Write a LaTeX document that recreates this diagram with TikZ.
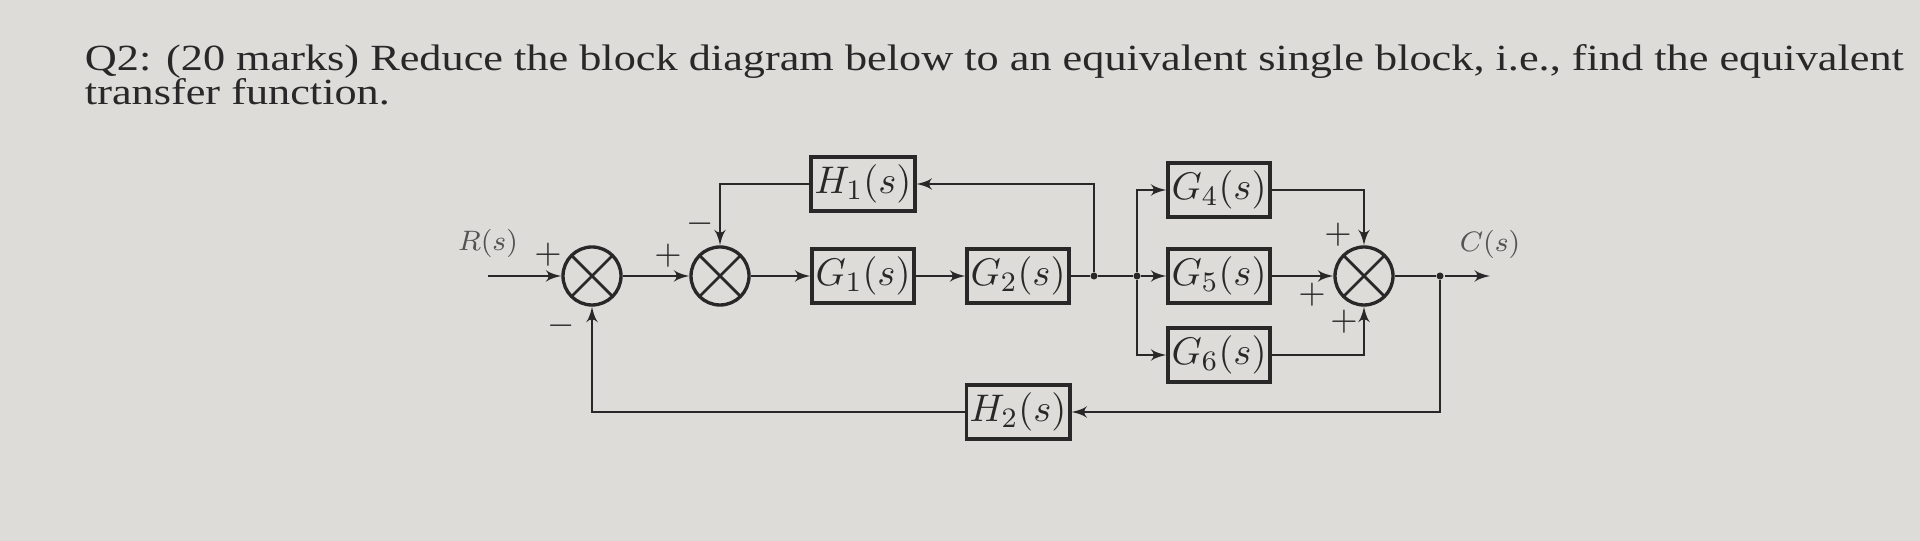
\documentclass[tikz,border=0pt]{standalone}
\usepackage{fontspec}
\newfontfamily\titlefont[FakeStretch=1.2]{Liberation Serif}
\usepackage{tikz}
\usetikzlibrary{positioning, arrows}
\definecolor{paper}{RGB}{221,220,217}
\definecolor{ink}{RGB}{40,40,40}
\tikzset{
>=latex', % small filled arrow heads
every path/.style={line width=0.55pt}, % thin signal lines
block/.style={draw, line width=0.95pt, minimum width=1.02cm, minimum height=0.54cm, inner sep=1pt, font=\fontsize{10.95}{13}\selectfont}, % transfer function boxes
sumnode/.style={circle, draw, line width=0.95pt, minimum size=0.58cm, inner sep=0pt,
  path picture={\draw[line width=0.8pt] (path picture bounding box.north west) -- (path picture bounding box.south east)
  (path picture bounding box.north east) -- (path picture bounding box.south west);}}, % summing junction
dot/.style={circle, fill, inner sep=0pt, minimum size=2pt}, % take-off point
sign/.style={inner sep=0pt, font=\normalsize}, % + and - at the junctions
signal/.style={inner sep=0pt, font=\footnotesize, text=ink!80}, % R(s), C(s)
question/.style={anchor=base west, inner sep=0pt, font=\titlefont\fontsize{10.5}{13}\selectfont}, % the task text
}
\begin{document}
\begin{tikzpicture}[color=ink]
\fill[paper] (0,0) rectangle (19.2,-5.41);
\useasboundingbox (0,0) rectangle (19.2,-5.41);

% question text
\node[question] (q1) at (0.84,-0.71)
  {Q2: (20 marks) Reduce the block diagram below to an equivalent single block, i.e., find the equivalent};
\node[question] (q2) at (0.84,-1.05) {transfer function.};

% forward path
\node[sumnode] (s1) at (5.92,-2.76) {};
\coordinate[left of=s1, node distance=1.04cm] (in);
\node[sumnode, right of=s1, node distance=1.28cm] (s2) {};
\node[block, right of=s2, node distance=1.43cm] (g1) {$G_1(s)$};
\node[block, right of=g1, node distance=1.55cm] (g2) {$G_2(s)$};
\node[dot, right of=g2, node distance=0.76cm] (d1) {};
\node[dot, right of=d1, node distance=0.43cm] (d2) {};
\node[block, right of=d2, node distance=0.82cm] (g5) {$G_5(s)$};
\node[block, above of=g5, node distance=0.86cm] (g4) {$G_4(s)$};
\node[block, below of=g5, node distance=0.79cm] (g6) {$G_6(s)$};
\node[sumnode, right of=g5, node distance=1.45cm] (s3) {};
\node[dot, right of=s3, node distance=0.76cm] (d3) {};
\coordinate[right of=d3, node distance=0.50cm] (out);

% feedback blocks
\node[block, above of=g1, node distance=0.92cm] (h1) {$H_1(s)$};
\node[block, below of=g2, node distance=1.36cm] (h2) {$H_2(s)$};

% signals and signs
\node[signal, above of=in, node distance=0.33cm] (rs) {$R(s)$};
\node[signal, above of=out, node distance=0.32cm] (cs) {$C(s)$};
\node[sign] (p1) at (5.48,-2.55) {$+$};
\node[sign] (m1) at (5.61,-3.26) {$-$};
\node[sign] (p2) at (6.68,-2.56) {$+$};
\node[sign] (m2) at (7.00,-2.24) {$-$};
\node[sign] (p3) at (13.38,-2.35) {$+$};
\node[sign] (p4) at (13.12,-2.95) {$+$};
\node[sign] (p5) at (13.44,-3.22) {$+$};

\draw[->] (in) -- (s1);
\draw[->] (s1) -- (s2);
\draw[->] (s2) -- (g1);
\draw[->] (g1) -- (g2);
\draw (g2) -- (d1) -- (d2);
\draw[->] (d1) |- (h1);
\draw[->] (h1) -| (s2);
\draw[->] (d2) |- (g4);
\draw[->] (d2) -- (g5);
\draw[->] (d2) |- (g6);
\draw[->] (g4) -| (s3);
\draw[->] (g5) -- (s3);
\draw[->] (g6) -| (s3);
\draw (s3) -- (d3);
\draw[->] (d3) -- (out);
\draw[->] (d3) |- (h2);
\draw[->] (h2) -| (s1);
\end{tikzpicture}
\end{document}
